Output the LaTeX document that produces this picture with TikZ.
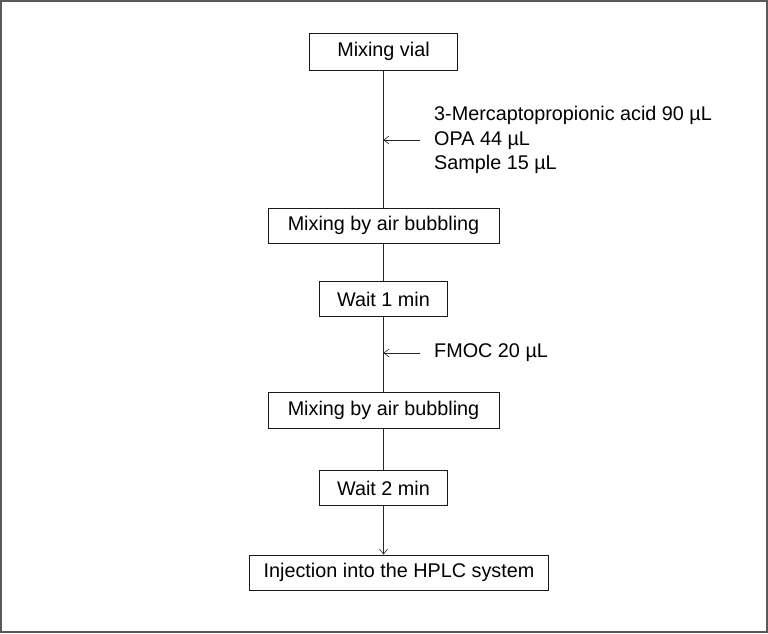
\documentclass[tikz,border=0pt]{standalone}
\usepackage{fontspec}
\setmainfont{Liberation Sans}
\usetikzlibrary{arrows.meta}
\begin{document}
\begin{tikzpicture}[x=1pt,y=-1pt,
  stepbox/.style={draw=black!90,line width=0.9pt,inner sep=0pt,anchor=center,
    font=\fontsize{19.8}{24}\selectfont},
  conn/.style={draw=black!85,line width=0.9pt},
  arr/.style={conn,-{Straight Barb[length=5pt,width=8pt,line width=0.6pt]}},
  lbl/.style={anchor=west,align=left,inner sep=0pt,font=\fontsize{19.8}{24.5}\selectfont}]
\useasboundingbox (0,0) rectangle (768,634);
\draw[black!65,line width=2pt] (1,1.5) rectangle (766.5,632);
\node[stepbox,minimum width=148pt,minimum height=37pt] (b1) at (383.5,51.5) {Mixing vial};
\node[stepbox,minimum width=231pt,minimum height=35pt] (b2) at (383.5,225.5) {Mixing by air bubbling};
\node[stepbox,minimum width=128pt,minimum height=35pt] (b3) at (383.5,299) {Wait 1 min};
\node[stepbox,minimum width=231pt,minimum height=36pt] (b4) at (383.5,410) {Mixing by air bubbling};
\node[stepbox,minimum width=128pt,minimum height=35pt] (b5) at (383.5,488) {Wait 2 min};
\node[stepbox,minimum width=299pt,minimum height=35pt] (b6) at (399,572.5) {Injection into the HPLC system};
\node[lbl] (t1) at (434,140) {3-Mercaptopropionic acid 90 µL\\OPA 44 µL\\Sample 15 µL};
\node[lbl] (t2) at (434,353) {FMOC 20 µL};
\coordinate (s1) at (420,140);
\coordinate (s2) at (420,353);
\draw[conn] (b1.south) -- (b2.north);
\draw[conn] (b2.south) -- (b3.north);
\draw[conn] (b3.south) -- (b4.north);
\draw[conn] (b4.south) -- (b5.north);
\draw[arr] (b5.south) -- (b5.south |- b6.north);
\draw[arr] (s1) -- (s1 -| b1.south);
\draw[arr] (s2) -- (s2 -| b3.south);
\end{tikzpicture}
\end{document}
